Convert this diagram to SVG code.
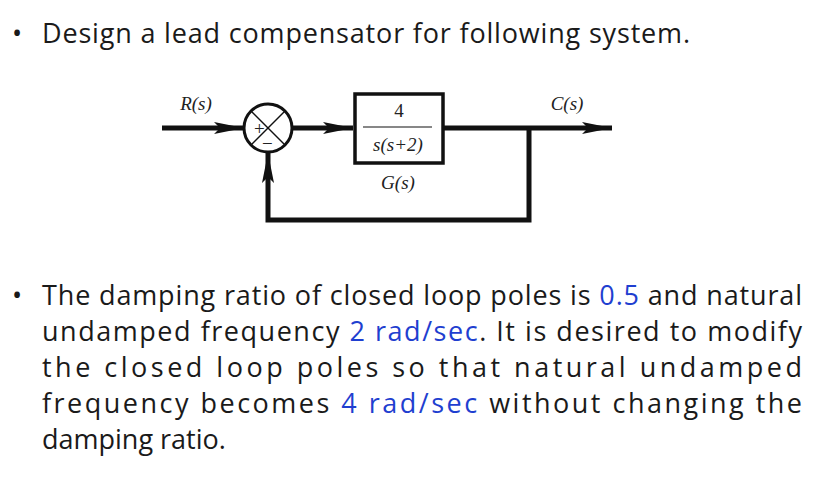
<svg xmlns="http://www.w3.org/2000/svg" width="826" height="477" viewBox="0 0 826 477">
<defs>
<style>
.t{font-family:"Open Sans","Liberation Sans",sans-serif;font-size:27px;fill:#1a1a1a}
.b{fill:#1f3fd0}
.m{font-family:"Liberation Serif",serif;font-size:19px;fill:#222}
.w{stroke:#111;stroke-width:5;fill:none}
</style>
<marker id="a" viewBox="0 0 10 10" refX="9" refY="5" markerWidth="6" markerHeight="4" orient="auto" markerUnits="userSpaceOnUse"><path d="M0,0L10,5L0,10L3,5z" fill="#111" transform="scale(1)"/></marker>
<marker id="ah" viewBox="0 0 30 12" refX="30" refY="6" markerWidth="30" markerHeight="12" orient="auto" markerUnits="userSpaceOnUse"><path d="M0,0L30,6L0,12L6,6z" fill="#111"/></marker>
</defs>
<rect width="826" height="477" fill="#fff"/>
<text class="t" x="12" y="43">•</text>
<text class="t" x="42" y="43" textLength="648">Design a lead compensator for following system.</text>
<g id="sum">
<circle cx="268" cy="128" r="24" fill="#fff" stroke="#111" stroke-width="3"/>
<line x1="251" y1="111" x2="285" y2="145" stroke="#111" stroke-width="1.5"/>
<line x1="285" y1="111" x2="251" y2="145" stroke="#111" stroke-width="1.5"/>
<text class="m" x="254" y="135" font-size="16">+</text>
<text class="m" x="262" y="150" font-size="16">−</text>
</g>
<g id="G">
<rect x="355" y="94" width="88" height="69" fill="#fff" stroke="#111" stroke-width="3.5"/>
<text class="m" x="399" y="117" text-anchor="middle">4</text>
<line x1="363" y1="127" x2="432" y2="127" stroke="#111" stroke-width="1.2"/>
<text class="m" x="398" y="151" text-anchor="middle" font-style="italic">s(s+2)</text>
<text class="m" x="398" y="189" text-anchor="middle" font-style="italic">G(s)</text>
</g>
<text class="m" x="196" y="110" text-anchor="middle" font-style="italic">R(s)</text>
<text class="m" x="567" y="110" text-anchor="middle" font-style="italic">C(s)</text>
<g id="connectors">
<line class="w" x1="162" y1="128" x2="244" y2="128" marker-end="url(#ah)"/>
<line class="w" x1="292" y1="128" x2="353" y2="128" marker-end="url(#ah)"/>
<line class="w" x1="443" y1="128" x2="612" y2="128" marker-end="url(#ah)"/>
<polyline class="w" points="529,128 529,220 268,220 268,153" marker-end="url(#ah)"/>
</g>
<text class="t" x="12" y="305">•</text>
<text class="t" x="42" y="305" textLength="760">The damping ratio of closed loop poles is <tspan class="b">0.5</tspan> and natural</text>
<text class="t" x="42" y="341" textLength="760">undamped frequency <tspan class="b">2 rad/sec</tspan>. It is desired to modify</text>
<text class="t" x="42" y="377" textLength="760">the closed loop poles so that natural undamped</text>
<text class="t" x="42" y="413" textLength="760">frequency becomes <tspan class="b">4 rad/sec</tspan> without changing the</text>
<text class="t" x="42" y="449">damping ratio.</text>
</svg>
